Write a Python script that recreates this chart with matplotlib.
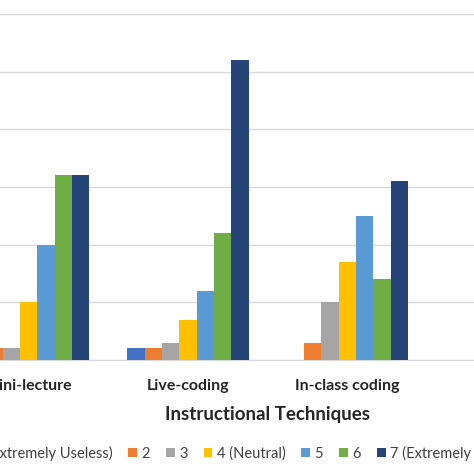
import numpy as np
import matplotlib
matplotlib.use("Agg")
import matplotlib.pyplot as plt

plt.rcParams['font.family'] = ['Lato', 'DejaVu Sans']

# percentage of students per rating, for each technique
techniques = ['Mini-lecture', 'Live-coding', 'In-class coding']
ratings = ['1 (Extremely Useless)', '2', '3', '4 (Neutral)', '5', '6', '7 (Extremely Useful)']
r1 = [2, 2, 0]
r2 = [2, 2, 3]
r3 = [2, 3, 10]
r4 = [10, 7, 17]
r5 = [20, 12, 25]
r6 = [32, 22, 14]
r7 = [32, 52, 31]
colors = ['#4472C4', '#ED7D31', '#A5A5A5', '#FFC000', '#5B9BD5', '#70AD47', '#264478']

series = [r1, r2, r3, r4, r5, r6, r7]

fig = plt.figure(figsize=(4.74, 4.74), dpi=100)
# plot area is wider than the picture (the original was cropped)
ax = fig.add_axes([-51.1 / 474, 114 / 474, 637.6 / 474, 346 / 474])

x = np.arange(len(techniques))
w = 0.1088
for i, vals in enumerate(series):
    ax.bar(x + (i - 3) * w, vals, width=w, color=colors[i], label=ratings[i], zorder=3)

ax.set_xlim(-0.5, 3.5)
ax.set_ylim(0, 60)
ax.set_yticks(np.arange(0, 61, 10))
ax.yaxis.grid(True, color='#D9D9D9', linewidth=1.0, zorder=0)
ax.tick_params(axis='y', left=False, labelleft=False)
ax.tick_params(axis='x', bottom=False, pad=10.5)
ax.set_xticks(x)
ax.set_xticklabels(techniques, fontsize=11.5, fontweight='bold', color='#262626')
for s in ['top', 'right', 'left']:
    ax.spines[s].set_visible(False)
ax.spines['bottom'].set_color('#D9D9D9')
ax.set_xlabel('Instructional Techniques', fontsize=13.5, fontweight='bold',
              color='#262626', labelpad=9)

fig.legend(loc='center', bbox_to_anchor=(241 / 474, 1 - 453 / 474), ncol=7,
           frameon=False, fontsize=10.5, handlelength=0.6, handleheight=0.6,
           handletextpad=0.3, columnspacing=1.1, labelcolor='#404040')

fig.savefig('out.png', dpi=100)
